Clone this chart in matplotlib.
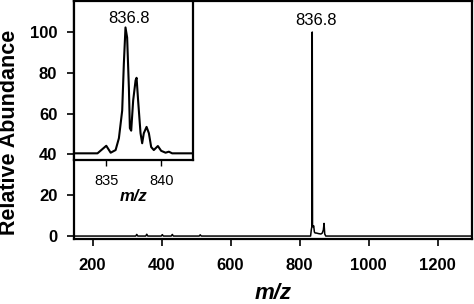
import matplotlib
matplotlib.use("Agg")
import matplotlib.pyplot as plt

plt.rcParams['font.family'] = ['Liberation Sans', 'DejaVu Sans']

# full spectrum (m/z, relative abundance)
mz = [146, 325, 328, 331, 354, 357, 360, 399, 402, 405, 428, 431, 434, 509, 512, 515,
      832, 834, 836, 836.8, 837.6, 839, 841, 843, 845, 848, 855, 862, 866, 869, 871, 873, 876, 1300]
abundance = [0, 0, 0.8, 0, 0, 0.9, 0, 0, 0.7, 0, 0, 0.8, 0, 0, 0.6, 0,
             0, 3, 5, 100, 5, 4.5, 5, 2, 1.5, 1.5, 1.2, 1, 1.5, 3, 6.2, 1, 0, 0]

# zoomed isotope pattern
mz_zoom = [832.0, 834.2, 835.0, 835.4, 835.85, 836.15, 836.45, 836.6, 836.75, 836.9, 837.06,
           837.15, 837.27, 837.45, 837.67, 837.76, 837.9, 838.12, 838.27, 838.42, 838.67,
           838.88, 839.09, 839.33, 839.7, 840.0, 840.4, 840.7, 841.0, 843.0]
abund_zoom = [0, 0, 6, 0.5, 2.6, 12, 34, 71, 100, 92, 52,
              20, 18, 42, 58, 60, 42, 16, 8, 16, 21,
              16, 5, 2.6, 5.8, 2, 0.5, 1.3, 0, 0]

peak_label = "836.8"
peak_mz = 836.8

fig = plt.figure(figsize=(4.74, 3.04), dpi=100)
ax = fig.add_axes([74 / 474, 1 - 238.5 / 304, 398 / 474, 237.5 / 304])
ax.plot(mz, abundance, color='black', lw=1.1)
ax.set_xlim(146, 1300)
ax.set_ylim(-1.2, 115.2)
ax.set_xticks([200, 400, 600, 800, 1000, 1200])
ax.set_yticks([0, 20, 40, 60, 80, 100])
ax.tick_params(axis='both', labelsize=12, width=1.2, length=5)
ax.tick_params(axis='x', pad=9)
ax.tick_params(axis='y', pad=7)
for lab in ax.get_xticklabels() + ax.get_yticklabels():
    lab.set_fontweight('bold')
for s in ax.spines.values():
    s.set_linewidth(1.6)
ax.text(peak_mz + 10, 102, peak_label, ha='center', va='bottom', fontsize=12)
ax.set_ylabel("Relative Abundance", fontsize=15.5, fontweight='bold')
ax.yaxis.set_label_coords(-0.135, 0.446)
ax.set_xlabel("m/z", fontsize=16, fontweight='bold', style='italic', va='baseline')
ax.xaxis.set_label_coords(0.5, -0.255)

# inset
ins = fig.add_axes([74 / 474, 1 - 160 / 304, 119 / 474, 159 / 304])
ins.plot(mz_zoom, abund_zoom, color='black', lw=1.5)
ins.set_xlim(832.06, 842.9)
ins.set_ylim(-5.3, 121)
ins.set_xticks([835, 840])
ins.set_yticks([])
ins.tick_params(axis='x', labelsize=10.5, width=1.0, length=4, pad=6)
for s in ins.spines.values():
    s.set_linewidth(1.6)
ins.text(peak_mz + 0.25, 101, peak_label, ha='center', va='bottom', fontsize=12)
ins.set_xlabel("m/z", fontsize=12, fontweight='bold', style='italic', labelpad=1)

fig.savefig("out.png", dpi=100)
